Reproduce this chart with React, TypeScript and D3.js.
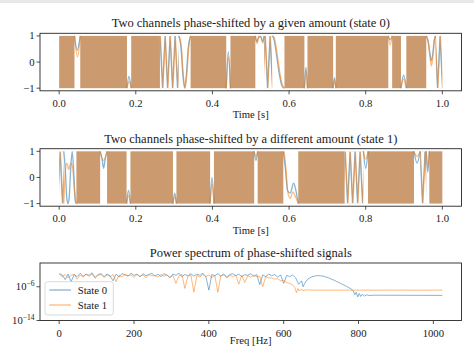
import * as d3 from "d3";

const W = 474;
const H = 353;
const LEFT = 40;
const RIGHT = 461.5;
const PH = 57.5;
const BLUE = "#1f77b4";
const ORANGE = "#ff7f0e";
const BOTH = "#cb9b6f"; // both channels stacked on each other
const FONT = "'Liberation Serif', 'DejaVu Serif', serif";

const timeTicks = [0, 0.2, 0.4, 0.6, 0.8, 1.0];
const ampTicks = [-1, 0, 1];
const freqTicks = [0, 200, 400, 600, 800, 1000];
const powerTicks = [-14, -6]; // decades shown on the log axis

// ---- state 0 waveform ----
// stretches where the two channels oscillate too fast to separate, [start, end] in s
const dense0: [number, number][] = [
  [0.0, 0.04], [0.055, 0.177], [0.188, 0.263], [0.343, 0.436], [0.447, 0.512],
  [0.588, 0.64], [0.648, 0.715], [0.722, 0.859], [0.869, 0.892], [0.906, 0.958],
];
// stretches where single strokes can still be seen
const sparse0: [number, number][] = [[0.263, 0.312], [0.535, 0.556], [0.982, 1.0]];
// slow parts between the bursts, [t, value] per channel
const slow0 = [
  { blue: [[0.04, 1], [0.047, 0.45], [0.055, 1]], orange: [[0.04, 1], [0.048, 0.2], [0.055, 1]] },
  { blue: [[0.177, -1], [0.182, -0.55], [0.188, -1]], orange: [[0.177, -1], [0.1825, -0.75], [0.188, -1]] },
  {
    blue: [[0.312, 1], [0.318, 0.55], [0.323, -0.5], [0.3275, -1], [0.332, -0.5], [0.337, 0.55], [0.343, 1]],
    orange: [[0.313, 1], [0.319, 0.55], [0.324, -0.5], [0.3285, -1], [0.333, -0.5], [0.338, 0.55], [0.343, 1]],
  },
  { blue: [[0.436, -1], [0.4415, 0.4], [0.447, -1]], orange: [[0.436, -1], [0.442, 0.2], [0.447, -1]] },
  {
    blue: [[0.512, 1], [0.516, 0.78], [0.521, 0.98], [0.526, 0.97], [0.531, 0.78], [0.535, 1]],
    orange: [[0.512, 1], [0.5165, 0.7], [0.5215, 0.97], [0.5265, 0.96], [0.5315, 0.72], [0.535, 1]],
  },
  {
    blue: [[0.556, 1], [0.561, 0.85], [0.568, 0.2], [0.575, -0.5], [0.581, -0.9], [0.587, -1]],
    orange: [[0.558, 1], [0.563, 0.85], [0.57, 0.2], [0.577, -0.5], [0.583, -0.9], [0.588, -1]],
  },
  { blue: [[0.64, -1], [0.644, -0.2], [0.648, -1]], orange: [[0.64, -1], [0.6445, -0.4], [0.648, -1]] },
  { blue: [[0.715, -1], [0.7185, -0.6], [0.722, -1]], orange: [[0.715, -1], [0.7185, -0.72], [0.722, -1]] },
  { blue: [[0.859, 1], [0.864, 0.85], [0.869, 1]], orange: [[0.859, 1], [0.864, 0.65], [0.869, 1]] },
  { blue: [[0.892, -1], [0.899, -0.5], [0.906, -1]], orange: [[0.892, -1], [0.899, -0.65], [0.906, -1]] },
  {
    blue: [[0.958, 1], [0.963, 0.8], [0.968, 0.3], [0.971, 0.05], [0.975, 0.3], [0.979, 0.85], [0.982, 1]],
    orange: [[0.958, 1], [0.963, 0.75], [0.968, 0.15], [0.9715, -0.15], [0.975, 0.15], [0.979, 0.8], [0.982, 1]],
  },
];

// ---- state 1 waveform ----
const dense1: [number, number][] = [
  [0.045, 0.107], [0.125, 0.176], [0.186, 0.297], [0.306, 0.394], [0.404, 0.509],
  [0.518, 0.585], [0.624, 0.745], [0.806, 0.926], [0.966, 1.0],
];
const sparse1: [number, number][] = [[0.0, 0.012], [0.745, 0.794], [0.942, 0.958]];
const slow1 = [
  {
    blue: [[0.012, 1], [0.016, 0.3], [0.02, -0.8], [0.023, -1], [0.026, -0.8], [0.03, 0.3], [0.034, 1], [0.038, 0.2], [0.042, -0.9], [0.045, -1]],
    orange: [[0.012, -1], [0.016, 0.2], [0.02, 0.55], [0.025, 0.3], [0.03, 0.55], [0.035, 0.4], [0.04, -0.5], [0.045, -1]],
  },
  {
    blue: [[0.107, 1], [0.112, 0.7], [0.116, 0.35], [0.12, 0.7], [0.125, 1]],
    orange: [[0.107, 1], [0.116, 0.65], [0.125, 1]],
  },
  { blue: [[0.176, -1], [0.181, -0.5], [0.186, -1]], orange: [[0.176, -1], [0.181, -0.7], [0.186, -1]] },
  { blue: [[0.297, -1], [0.3015, -0.6], [0.306, -1]], orange: [[0.297, -1], [0.3015, -0.75], [0.306, -1]] },
  { blue: [[0.394, -1], [0.399, 0.0], [0.404, -1]], orange: [[0.394, -1], [0.399, -0.25], [0.404, -1]] },
  { blue: [[0.509, 1], [0.5135, 0.65], [0.518, 1]], orange: [[0.509, 1], [0.5135, 0.8], [0.518, 1]] },
  {
    blue: [[0.585, 1], [0.59, 0.4], [0.596, -0.5], [0.603, -0.6], [0.612, -0.22], [0.618, -0.5], [0.624, -1]],
    orange: [[0.587, 1], [0.592, 0.3], [0.597, -0.6], [0.603, -0.8], [0.61, -0.55], [0.617, -0.75], [0.624, -1]],
  },
  { blue: [[0.794, 1], [0.8, 0.35], [0.806, 1]], orange: [[0.794, 1], [0.8, 0.7], [0.806, 1]] },
  { blue: [[0.926, 1], [0.934, 0.55], [0.942, 1]], orange: [[0.926, 1], [0.934, 0.8], [0.942, 1]] },
  { blue: [[0.958, 1], [0.962, 0.2], [0.966, 1]], orange: [[0.958, 1], [0.962, 0.4], [0.966, 1]] },
];

// ---- power spectra, log10 of power ----
const binStep = 8; // Hz between the values below, starting at 0 Hz
const noise0 = [
  -2.9, -3.2, -4.3, -3.0, -4.8, -3.1, -3.6, -2.8, -3.5, -3.0, -3.3, -2.7, -3.8, -3.1, -2.9, -3.6,
  -3.0, -3.4, -4.6, -3.0, -3.7, -2.9, -3.2, -3.5, -2.8, -3.3, -3.0, -3.7, -2.9, -3.4, -3.1, -2.8,
  -3.5, -3.0, -3.6, -2.9, -3.2, -3.8, -3.0, -3.3, -2.8, -3.6, -3.1, -3.4, -2.9, -3.5, -3.0, -3.3,
  -2.8, -3.6, -6.8, -3.1, -3.4, -2.9, -3.5, -3.0, -3.7, -3.1, -2.9, -3.4, -3.0, -3.6, -3.1, -3.3,
  -2.9, -3.5, -3.1, -5.5, -3.2, -3.6, -3.0, -3.4, -3.1, -3.7, -3.2, -5.2, -3.3, -3.6, -3.2, -3.9, -5.4,
];
const tailFreq0 = [648, 652, 656, 664, 676, 690, 704, 720, 736, 752, 768, 780, 786, 790, 794, 798, 802, 806, 810, 816, 822, 830, 840, 1024];
const tail0 = [-4.6, -6.0, -5.2, -4.2, -3.6, -3.35, -3.45, -3.9, -4.5, -5.2, -5.9, -6.5, -7.0, -7.9, -7.3, -8.4, -7.6, -8.3, -7.8, -8.2, -7.9, -8.1, -8.0, -8.05];

const noise1 = [
  -3.0, -3.6, -3.1, -3.9, -3.3, -3.0, -4.2, -3.2, -3.7, -3.1, -3.5, -3.0, -4.0, -3.3, -3.1, -3.8,
  -3.2, -3.6, -3.1, -4.8, -3.3, -3.7, -3.0, -3.4, -3.2, -3.8, -3.1, -3.5, -3.2, -3.9, -3.1, -3.4,
  -3.3, -3.7, -3.1, -3.5, -3.2, -3.9, -3.3, -5.2, -3.4, -3.1, -6.4, -3.5, -3.2, -7.3, -3.3, -3.7,
  -3.1, -3.6, -3.2, -3.8, -3.3, -7.3, -3.4, -3.2, -3.9, -3.3, -3.6, -3.2, -5.4, -3.3, -5.0, -3.4,
  -3.7, -3.3, -3.6, -3.5, -6.0, -3.6, -3.9,
];
const tailFreq1 = [568, 576, 584, 592, 600, 608, 616, 624, 630, 634, 638, 642, 646, 652, 660, 680, 1024];
const tail1 = [-3.9, -4.2, -4.1, -4.6, -4.5, -5.0, -5.2, -5.6, -6.2, -7.4, -6.4, -7.0, -6.6, -6.9, -6.75, -6.8, -6.8];

const legendLabels = ["State 0", "State 1"];

type Pt = [number, number];

function Frame({ top }: { top: number }) {
  return <rect x={LEFT} y={top} width={RIGHT - LEFT} height={PH} fill="none" stroke="#262626" strokeWidth={0.9} />;
}

function Waves({ id, top, title, dense, sparse, slow }: {
  id: string; top: number; title: string; dense: Pt[]; sparse: Pt[]; slow: { blue: number[][]; orange: number[][] }[];
}) {
  const x = d3.scaleLinear().domain([-0.05, 1.05]).range([LEFT, RIGHT]);
  const y = d3.scaleLinear().domain([-1.1, 1.1]).range([top + PH, top]);
  const line = d3.line<number[]>().x((d) => x(d[0])).y((d) => y(d[1])).curve(d3.curveMonotoneX);
  const yTop = y(1);
  const h = y(-1) - y(1);
  const bottom = top + PH;
  return (
    <g>
      <defs>
        <pattern id={`sparse${id}`} patternUnits="userSpaceOnUse" x={0} y={yTop} width={5} height={h}>
          <path d={`M0,0L2.5,${h}L5,0`} fill="none" stroke={BLUE} strokeOpacity={0.55} strokeWidth={1.2} />
          <path d={`M0.4,0L2.9,${h}L5.4,0`} fill="none" stroke={ORANGE} strokeOpacity={0.55} strokeWidth={1.2} />
        </pattern>
      </defs>
      <text x={(LEFT + RIGHT) / 2} y={top - 6} textAnchor="middle" fontSize={12.5}>{title}</text>
      {dense.map((d, i) => (
        <rect key={`d${i}`} x={x(d[0])} y={yTop} width={x(d[1]) - x(d[0])} height={h} fill={BOTH} />
      ))}
      {sparse.map((d, i) => (
        <rect key={`s${i}`} x={x(d[0])} y={yTop} width={x(d[1]) - x(d[0])} height={h} fill={`url(#sparse${id})`} />
      ))}
      {slow.map((s, i) => (
        <g key={`f${i}`} fill="none" strokeWidth={1.3}>
          <path d={line(s.blue) || ""} stroke={BLUE} strokeOpacity={0.55} />
          <path d={line(s.orange) || ""} stroke={ORANGE} strokeOpacity={0.55} />
        </g>
      ))}
      <Frame top={top} />
      {timeTicks.map((t) => (
        <g key={t} transform={`translate(${x(t)},${bottom})`}>
          <line y2={3.5} stroke="#262626" strokeWidth={0.8} />
          <text y={16.3} textAnchor="middle" fontSize={10.7}>{d3.format(".1f")(t)}</text>
        </g>
      ))}
      {ampTicks.map((v) => (
        <g key={v} transform={`translate(${LEFT},${y(v)})`}>
          <line x2={-3.5} stroke="#262626" strokeWidth={0.8} />
          <text x={-5.5} dy="0.33em" textAnchor="end" fontSize={10.7}>{v < 0 ? `\u2212${-v}` : v}</text>
        </g>
      ))}
      <text x={(LEFT + RIGHT) / 2} y={bottom + 27.5} textAnchor="middle" fontSize={10.7}>Time [s]</text>
    </g>
  );
}

function Spectrum({ top }: { top: number }) {
  const x = d3.scaleLinear().domain([-51.2, 1075.2]).range([LEFT, RIGHT]);
  const y = d3.scaleLog().domain([1e-14, 10 ** -0.37]).range([top + PH, top]);
  const bottom = top + PH;
  const line = d3.line<Pt>().x((d) => x(d[0])).y((d) => y(10 ** d[1]));
  const s0: Pt[] = noise0.map((v, i) => [i * binStep, v] as Pt).concat(tailFreq0.map((f, i) => [f, tail0[i]] as Pt));
  const s1: Pt[] = noise1.map((v, i) => [i * binStep, v] as Pt).concat(tailFreq1.map((f, i) => [f, tail1[i]] as Pt));
  const lx = 45;
  const ly = 281.7;
  return (
    <g>
      <text x={(LEFT + RIGHT) / 2} y={top - 6} textAnchor="middle" fontSize={12.5}>Power spectrum of phase-shifted signals</text>
      <path d={line(s0) || ""} fill="none" stroke={BLUE} strokeOpacity={0.55} strokeWidth={1} />
      <path d={line(s1) || ""} fill="none" stroke={ORANGE} strokeOpacity={0.55} strokeWidth={1} />
      <Frame top={top} />
      {freqTicks.map((f) => (
        <g key={f} transform={`translate(${x(f)},${bottom})`}>
          <line y2={3.5} stroke="#262626" strokeWidth={0.8} />
          <text y={16.3} textAnchor="middle" fontSize={10.7}>{f}</text>
        </g>
      ))}
      {powerTicks.map((e) => (
        <g key={e} transform={`translate(${LEFT},${y(10 ** e)})`}>
          <line x2={-3.5} stroke="#262626" strokeWidth={0.8} />
          <text x={-5.5} dy="0.33em" textAnchor="end" fontSize={10.7}>
            10<tspan dy={-4.5} fontSize={7.5}>{`\u2212${-e}`}</tspan>
          </text>
        </g>
      ))}
      <text x={(LEFT + RIGHT) / 2} y={bottom + 23} textAnchor="middle" fontSize={10.7}>Freq [Hz]</text>
      <g>
        <rect x={lx} y={ly} width={68.3} height={33.3} rx={2.5} fill="#fff" fillOpacity={0.8} stroke="#d0d0d0" strokeWidth={0.8} />
        {legendLabels.map((l, i) => (
          <g key={l} transform={`translate(${lx},${ly + 8.3 + i * 15})`}>
            <line x1={4.3} x2={26} stroke={i === 0 ? BLUE : ORANGE} strokeOpacity={0.55} strokeWidth={1.3} />
            <text x={32.7} dy="0.33em" fontSize={10.7}>{l}</text>
          </g>
        ))}
      </g>
    </g>
  );
}

export default function App() {
  return (
    <svg width={W} height={H} style={{ position: "absolute", left: 0, top: 0, background: "#fff", fontFamily: FONT }} fill="#1a1a1a">
      <rect x={0} y={0} width={W} height={3} fill="#e8e8e8" />
      <Waves id="a" top={33.3} title="Two channels phase-shifted by a given amount (state 0)" dense={dense0} sparse={sparse0} slow={slow0} />
      <Waves id="b" top={148.7} title="Two channels phase-shifted by a different amount (state 1)" dense={dense1} sparse={sparse1} slow={slow1} />
      <Spectrum top={263} />
    </svg>
  );
}
